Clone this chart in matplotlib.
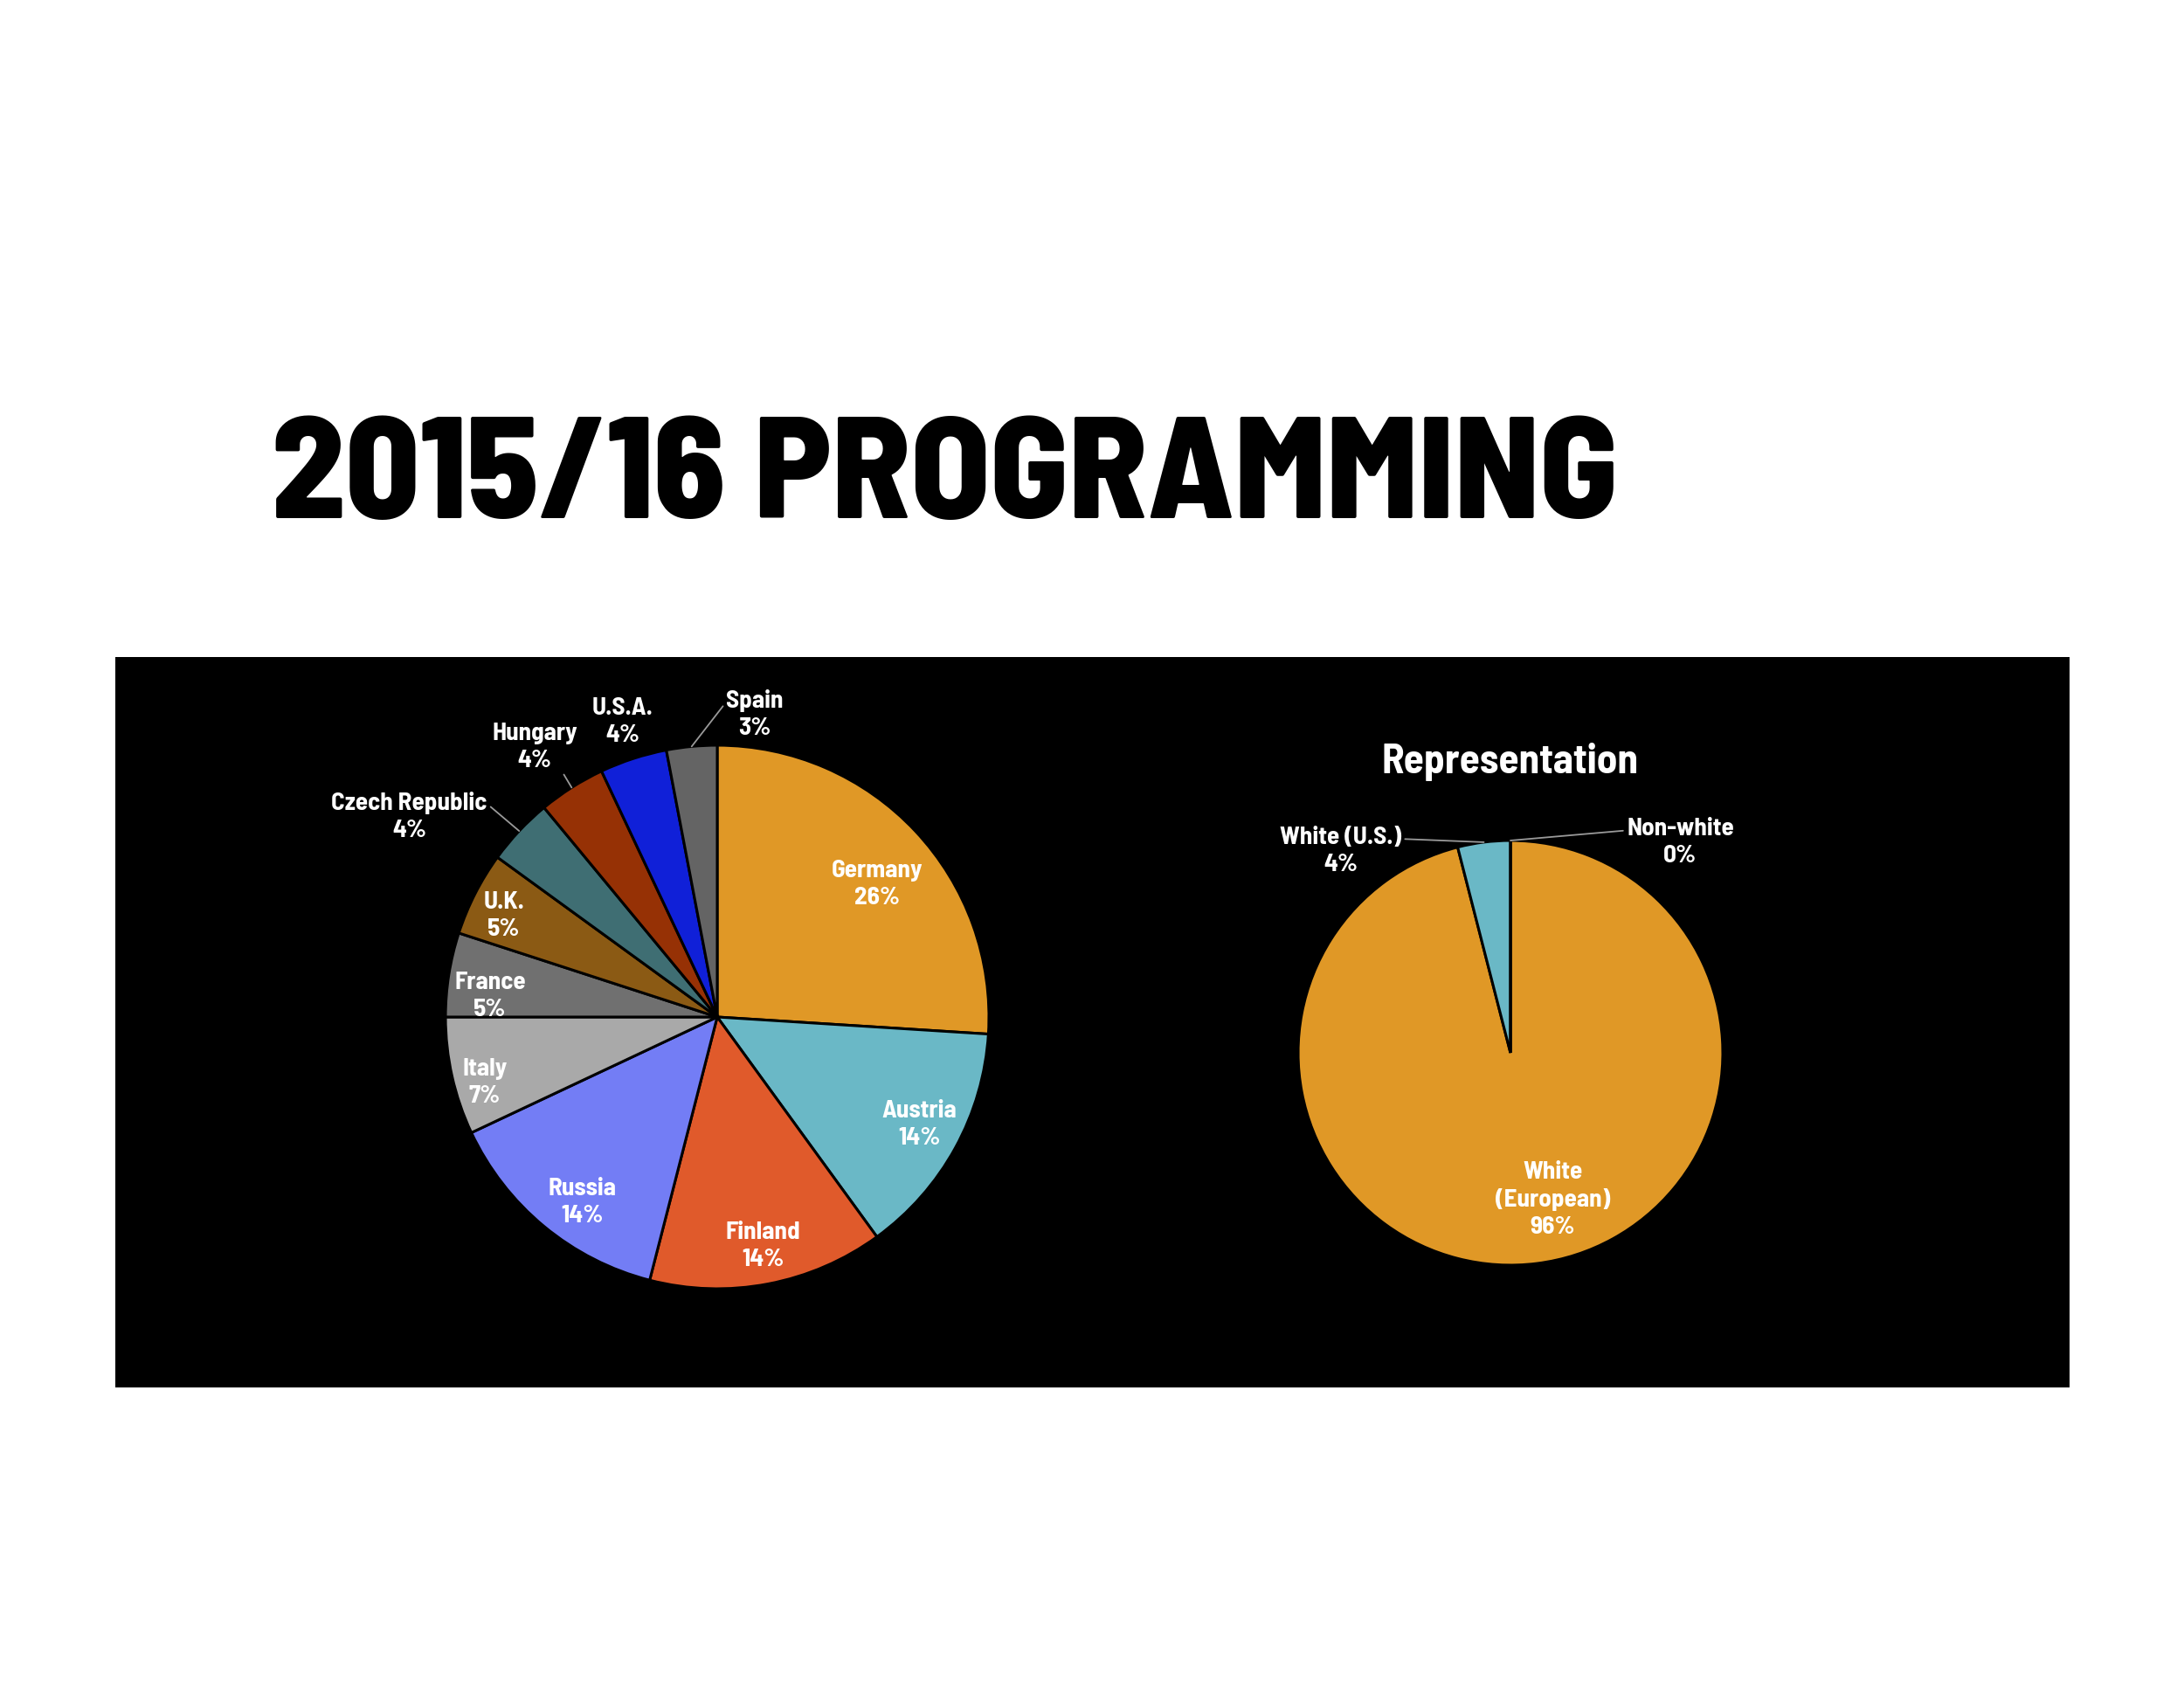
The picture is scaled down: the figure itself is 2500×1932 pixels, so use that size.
import numpy as np
import matplotlib
matplotlib.use("Agg")
import matplotlib.pyplot as plt
from matplotlib.patches import Rectangle

# fontes condensadas (com DejaVu de reserva)
fonte_titulo = ['Barlow Semi Condensed', 'DejaVu Sans']
fonte_rotulo = ['Barlow Semi Condensed', 'DejaVu Sans']
plt.rcParams['font.family'] = fonte_rotulo

# ----------------------------- dados -----------------------------
paises = ['Germany', 'Austria', 'Finland', 'Russia', 'Italy', 'France',
          'U.K.', 'Czech Republic', 'Hungary', 'U.S.A.', 'Spain']
pct_paises = [26, 14, 14, 14, 7, 5, 5, 4, 4, 4, 3]
cores_paises = ['#E09826', '#6AB8C6', '#E05A2B', '#737DF5', '#A9A9A9', '#707070',
                '#8B5A14', '#3F6E73', '#963105', '#1020D8', '#646464']

grupos = ['White\n(European)', 'White (U.S.)', 'Non-white']
pct_grupos = [96, 4, 0]
cores_grupos = ['#E09826', '#6AB8C6', '#8B8B8B']

W, H = 2500, 1932
fig = plt.figure(figsize=(W / 100, H / 100), dpi=100)
fig.patch.set_facecolor('white')

# caixa preta atrás das pizzas
fig.patches.append(Rectangle((132 / W, 1 - 1588 / H), (2369 - 132) / W, (1588 - 752) / H,
                             transform=fig.transFigure, facecolor='black', edgecolor='none',
                             zorder=-5))

fig.text(311 / W, 1 - 593 / H, '2015/16 PROGRAMMING', fontsize=119, fontweight=800,
         family=fonte_titulo, color='black', va='baseline', ha='left')


def eixo_pizza(cx, cy, r):
    # eixo para que a pizza de raio 1 caia em (cx, cy) com raio r (pixels, a partir do topo)
    lado = 2.5 * r
    ax = fig.add_axes([(cx - lado / 2) / W, (H - cy - lado / 2) / H, lado / W, lado / H])
    ax.set_zorder(1)
    return ax


lbl = dict(color='white', fontsize=21, fontweight=700, ha='center', va='center',
           multialignment='center', linespacing=1.3)


def linha(relpos):
    return dict(arrowstyle='-', color='#9A9A9A', lw=1.3, shrinkA=1, shrinkB=0, relpos=relpos)


# ----------------------------- pizza 1 -----------------------------
ax1 = eixo_pizza(821, 1164, 311)
wedges, _ = ax1.pie(pct_paises, colors=cores_paises, startangle=90, counterclock=False,
                    wedgeprops=dict(edgecolor='black', linewidth=2.2))

# posição dos rótulos (em raios, a partir do centro)
pos1 = [(0.59, 0.49), (0.744, -0.395), (0.169, -0.841), (-0.497, -0.682),
        (-0.856, -0.241), (-0.836, 0.077), (-0.785, 0.374), (-1.133, 0.738),
        (-0.672, 0.995), (-0.349, 1.087), (0.138, 1.113)]
guia = {'Czech Republic': (1.0, 0.75), 'Hungary': (0.75, 0.2), 'Spain': (0.0, 0.75)}
for w, nome, v, p in zip(wedges, paises, pct_paises, pos1):
    ang = np.deg2rad((w.theta1 + w.theta2) / 2)
    txt = f'{nome}\n{v}%'
    if nome in guia:
        ax1.annotate(txt, xy=(np.cos(ang), np.sin(ang)), xytext=p,
                     arrowprops=linha(guia[nome]), **lbl)
    else:
        ax1.text(p[0], p[1], txt, **lbl)

# ----------------------------- pizza 2 -----------------------------
ax2 = eixo_pizza(1729, 1205, 243)
wedges2, _ = ax2.pie(pct_grupos, colors=cores_grupos, startangle=90, counterclock=False,
                     wedgeprops=dict(edgecolor='black', linewidth=2.2))
ax2.text(0, 1.37, 'Representation', color='white', fontsize=34, fontweight=700,
         ha='center', va='center')

pos2 = [(0.2, -0.69), (-0.80, 0.95), (0.80, 0.99)]
guia2 = [None, (1.0, 0.75), (0.0, 0.75)]
for w, nome, v, p, g in zip(wedges2, grupos, pct_grupos, pos2, guia2):
    txt = f'{nome}\n{v}%'
    if g is None:
        ax2.text(p[0], p[1], txt, **lbl)
    else:
        ang = np.deg2rad((w.theta1 + w.theta2) / 2)
        ax2.annotate(txt, xy=(np.cos(ang), np.sin(ang)), xytext=p, arrowprops=linha(g), **lbl)

fig.savefig('out.png', dpi=100, facecolor='white')
